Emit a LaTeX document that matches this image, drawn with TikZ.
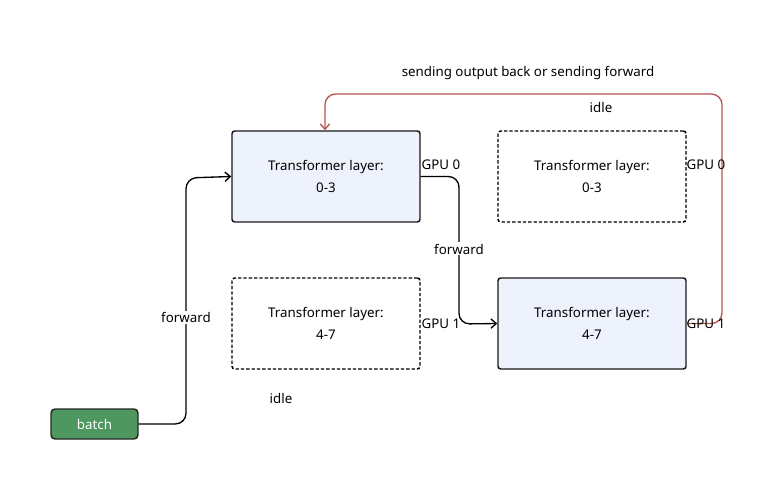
\documentclass[tikz,border=0pt]{standalone}
\usepackage{fontspec}
\setmainfont{Noto Sans}
\usetikzlibrary{arrows.meta}
\definecolor{actfill}{RGB}{237,242,252}
\definecolor{batchfill}{RGB}{78,152,95}
\definecolor{backred}{RGB}{184,84,80}
\begin{document}
\begin{tikzpicture}[x=0.75pt,y=-0.75pt,font=\fontsize{10}{12}\selectfont,
 box/.style={draw,line width=1.1pt,rounded corners=2pt,minimum width=188*0.75pt,minimum height=91*0.75pt,align=center,inner sep=0pt},
 act/.style={box,fill=actfill,draw=black!90},
 idl/.style={box,dashed,dash pattern=on 2.5pt off 1.5pt,fill=white},
 con/.style={line width=1pt,rounded corners=8pt,-{Straight Barb[length=4pt,width=7pt]}},
 lbl/.style={inner sep=1pt}]
\useasboundingbox (0,0) rectangle (781,502);
\node[act] (a) at (326,176.5) {Transformer layer:\\[4pt]0-3};
\node[idl] (b) at (326,323.5) {Transformer layer:\\[4pt]4-7};
\node[idl] (c) at (592,176.5) {Transformer layer:\\[4pt]0-3};
\node[act] (d) at (592,323.5) {Transformer layer:\\[4pt]4-7};
\node[draw=black!85,fill=batchfill,line width=1.1pt,rounded corners=3pt,minimum width=87*0.75pt,minimum height=30*0.75pt,inner sep=0pt,text=white] (batch) at (94.5,424) {batch};
\draw[con] (batch.east) -| (186,178) -- (a.west);
\draw[con] (a.east) -| (459,324) -- (d.west);
\draw[con,draw=backred] (d.east) -| (722,94) -| (a.north -| 325,0);
\node[lbl] (g0) at (441,165) {GPU 0};
\node[lbl] (g1) at (441,324) {GPU 1};
\node[lbl] (g2) at (706,165) {GPU 0};
\node[lbl] (g3) at (706,324) {GPU 1};
\node[lbl,fill=white] (f1) at (186,317) {forward};
\node[lbl,fill=white] (f2) at (459,249) {forward};
\node[lbl] (i1) at (281,398) {idle};
\node[lbl] (i2) at (601,108) {idle};
\node[lbl] (s) at (528,73) {sending output back or sending forward};
\end{tikzpicture}
\end{document}
